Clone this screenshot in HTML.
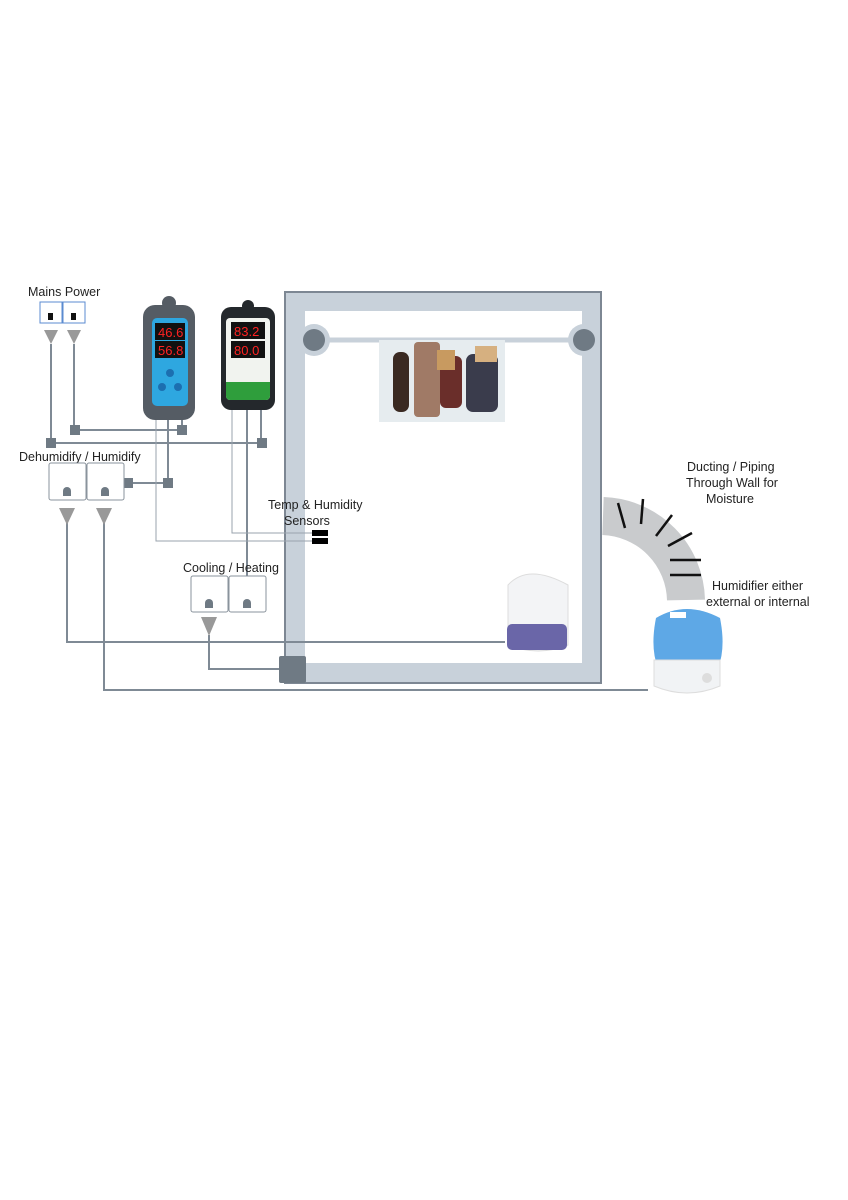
<!DOCTYPE html>
<html><head><meta charset="utf-8"><style>
html,body{margin:0;padding:0;background:#fff;}
svg{display:block;}
text{font-family:"Liberation Sans",sans-serif;font-size:12.5px;fill:#222;}
</style></head><body>
<svg width="848" height="1200" viewBox="0 0 848 1200" xmlns="http://www.w3.org/2000/svg">
<!-- frame -->
<rect x="285" y="292" width="316" height="391" fill="#c8d1da" stroke="#7d8793" stroke-width="2"/>
<rect x="305" y="311" width="277" height="352" fill="#fff"/>
<line x1="314" y1="340" x2="584" y2="340" stroke="#c8d1da" stroke-width="5"/>
<circle cx="314" cy="340" r="16" fill="#c8d1da"/><circle cx="314" cy="340" r="11" fill="#6f7a84"/>
<circle cx="584" cy="340" r="16" fill="#c8d1da"/><circle cx="584" cy="340" r="11" fill="#6f7a84"/>
<!-- photo -->
<rect x="379" y="340" width="126" height="82" fill="#e6ecef"/>
<rect x="393" y="352" width="16" height="60" rx="7" fill="#3a2a22"/>
<rect x="414" y="342" width="26" height="75" rx="4" fill="#a07a66"/>
<rect x="440" y="356" width="22" height="52" rx="6" fill="#6a2e2a"/>
<rect x="466" y="354" width="32" height="58" rx="7" fill="#3a3c4c"/>
<rect x="475" y="346" width="22" height="16" fill="#d6b080"/>
<rect x="437" y="350" width="18" height="20" fill="#c89a60"/>
<!-- mains -->
<text x="28" y="296">Mains Power</text>
<rect x="40" y="302" width="22" height="21" fill="#fff" stroke="#5b8bd0"/>
<rect x="63" y="302" width="22" height="21" fill="#fff" stroke="#5b8bd0"/>
<rect x="48" y="313" width="5" height="7" fill="#111"/><rect x="71" y="313" width="5" height="7" fill="#111"/>
<g fill="#999"><path d="M44 330h14l-7 14z"/><path d="M67 330h14l-7 14z"/></g>
<g stroke="#7f8a95" stroke-width="2" fill="none">
<path d="M51 344V443H262"/><path d="M74 344V430H182"/>
<path d="M168 420V483H128"/><path d="M182 420V430"/>
<path d="M261 410V443"/><path d="M247 410V576"/>
<path d="M67 522V642H505"/><path d="M104 522V690H648"/>
<path d="M209 635V669H292"/>
</g>
<g stroke="#9aa3ad" stroke-width="1" fill="none">
<path d="M156 420V541H320"/><path d="M232 410V533H320"/>
</g>
<g fill="#6f7a84">
<rect x="70" y="425" width="10" height="10"/><rect x="177" y="425" width="10" height="10"/>
<rect x="46" y="438" width="10" height="10"/><rect x="257" y="438" width="10" height="10"/>
<rect x="123" y="478" width="10" height="10"/><rect x="163" y="478" width="10" height="10"/>
<rect x="279" y="656" width="27" height="27" rx="2"/>
</g>
<rect x="312" y="530" width="16" height="6" fill="#000"/><rect x="312" y="538" width="16" height="6" fill="#000"/>
<!-- controllers -->
<rect x="143" y="305" width="52" height="115" rx="12" fill="#555c64"/>
<circle cx="169" cy="303" r="7" fill="#555c64"/>
<rect x="152" y="318" width="36" height="88" rx="5" fill="#2ea7e0"/>
<rect x="155" y="323" width="30" height="17" fill="#111"/><rect x="155" y="341" width="30" height="17" fill="#111"/>
<text x="158" y="337" style="fill:#f22;font-size:13px">46.6</text><text x="158" y="355" style="fill:#f22;font-size:13px">56.8</text>
<circle cx="162" cy="387" r="4" fill="#1c6fb0"/><circle cx="178" cy="387" r="4" fill="#1c6fb0"/><circle cx="170" cy="373" r="4" fill="#1c6fb0"/>
<rect x="221" y="307" width="54" height="103" rx="10" fill="#24282c"/>
<circle cx="248" cy="306" r="6" fill="#24282c"/>
<rect x="226" y="318" width="44" height="82" rx="4" fill="#f1f3ef"/>
<path d="M226 382h44v14a4 4 0 0 1-4 4h-36a4 4 0 0 1-4-4z" fill="#2f9e3c"/>
<rect x="231" y="322" width="34" height="17" fill="#111"/><rect x="231" y="341" width="34" height="17" fill="#111"/>
<text x="234" y="336" style="fill:#f22;font-size:13px">83.2</text><text x="234" y="355" style="fill:#f22;font-size:13px">80.0</text>
<!-- dehum outlets -->
<text x="19" y="461">Dehumidify / Humidify</text>
<rect x="49" y="463" width="37" height="37" rx="2" fill="#fff" stroke="#8a939c"/>
<rect x="87" y="463" width="37" height="37" rx="2" fill="#fff" stroke="#8a939c"/>
<path d="M63 496v-5a4 4 0 0 1 8 0v5z" fill="#6f7a84"/><path d="M101 496v-5a4 4 0 0 1 8 0v5z" fill="#6f7a84"/>
<g fill="#999"><path d="M59 508h16l-8 17z"/><path d="M96 508h16l-8 17z"/></g>
<!-- cooling -->
<text x="268" y="509">Temp &amp; Humidity</text><text x="284" y="525">Sensors</text>
<text x="183" y="572">Cooling / Heating</text>
<rect x="191" y="576" width="37" height="36" rx="2" fill="#fff" stroke="#8a939c"/>
<rect x="229" y="576" width="37" height="36" rx="2" fill="#fff" stroke="#8a939c"/>
<path d="M205 608v-5a4 4 0 0 1 8 0v5z" fill="#6f7a84"/><path d="M243 608v-5a4 4 0 0 1 8 0v5z" fill="#6f7a84"/>
<path d="M201 617h16l-8 19z" fill="#999"/>
<!-- dehumidifier -->
<path d="M508 585q20-22 60 0v60q-30 12-60 0z" fill="#f3f4f6" stroke="#ddd"/>
<rect x="507" y="624" width="60" height="26" rx="5" fill="#6a66a8"/>
<!-- duct -->
<path d="M603 516 A 86 86 0 0 1 686 600" stroke="#c9cbcd" stroke-width="38" fill="none"/>
<g stroke="#111" stroke-width="2.5">
<line x1="618" y1="503" x2="625" y2="528"/><line x1="643" y1="499" x2="641" y2="524"/>
<line x1="672" y1="515" x2="656" y2="536"/><line x1="692" y1="533" x2="668" y2="546"/>
<line x1="670" y1="560" x2="701" y2="560"/><line x1="670" y1="575" x2="701" y2="575"/>
</g>
<text x="687" y="471">Ducting / Piping</text><text x="686" y="487">Through Wall for</text><text x="706" y="503">Moisture</text>
<text x="712" y="590">Humidifier either</text><text x="706" y="606">external or internal</text>
<!-- humidifier -->
<path d="M656 618q30-18 64 0q6 30-2 50h-60q-8-20-2-50z" fill="#5ea8e6"/>
<path d="M654 660h66v26q-33 14-66 0z" fill="#f1f3f5" stroke="#ddd"/>
<rect x="670" y="612" width="16" height="6" fill="#fff"/>
<circle cx="707" cy="678" r="5" fill="#ddd"/>
</svg>
</body></html>
